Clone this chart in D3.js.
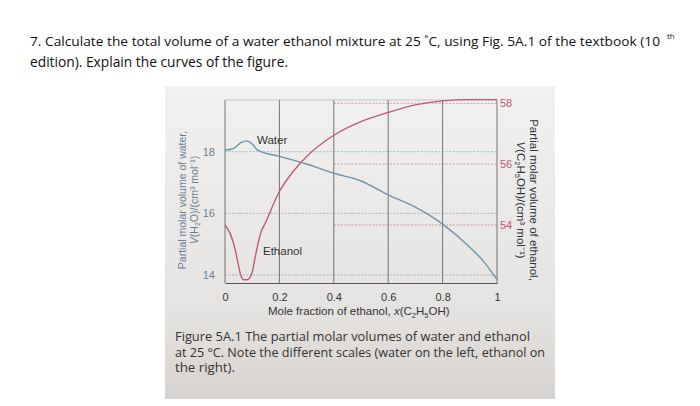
<!DOCTYPE html>
<html><head><meta charset="utf-8">
<script src="https://cdn.jsdelivr.net/npm/d3@7"></script>
<style>body{margin:0;background:#fff}</style></head>
<body><svg id="c" width="700" height="406"></svg>
<script>
const xTicks=[0,0.2,0.4,0.6,0.8,1];
const leftTicks=[14,16,18];
const rightTicks=[54,56,58];
const waterX=[0,0.03,0.06,0.08,0.1,0.12,0.2,0.3,0.4,0.5,0.6,0.7,0.8,0.9,0.95,0.98,1.0];
const waterV=[18.05,18.1,18.3,18.35,18.25,18.05,17.85,17.6,17.3,17.05,16.6,16.2,15.65,14.9,14.45,14.1,13.85];
const ethX=[0,0.02,0.04,0.05,0.06,0.07,0.08,0.09,0.1,0.11,0.13,0.15,0.2,0.25,0.3,0.4,0.5,0.6,0.7,0.8,0.9,1.0];
const ethV=[54.0,53.7,53.1,52.65,52.3,52.2,52.2,52.25,52.45,52.9,53.7,54.1,55.1,55.75,56.25,56.95,57.4,57.7,57.95,58.08,58.12,58.12];

const svg=d3.select("#c");
svg.append("text").attr("x",30).attr("y",46).attr("font-family","Open Sans").attr("font-size",13.4).attr("fill","#111")
 .attr("textLength",630).attr("lengthAdjust","spacingAndGlyphs").text("7. Calculate the total volume of a water ethanol mixture at 25 ˚C, using Fig. 5A.1 of the textbook (10");
svg.append("text").attr("x",667).attr("y",39).attr("font-family","Open Sans").attr("font-size",8).attr("fill","#111").text("th");
svg.append("text").attr("x",30).attr("y",67).attr("font-family","Open Sans").attr("font-size",14).attr("fill","#111")
 .attr("textLength",258).attr("lengthAdjust","spacingAndGlyphs").text("edition). Explain the curves of the figure.");

const g0=svg.append("defs").append("linearGradient").attr("id","bg").attr("x1",0).attr("y1",0).attr("x2",0).attr("y2",1);
g0.append("stop").attr("offset","0").attr("stop-color","#f1f1f0");
g0.append("stop").attr("offset","0.7").attr("stop-color","#e6e4e2");
g0.append("stop").attr("offset","1").attr("stop-color","#d6d2cf");
svg.append("rect").attr("x",165).attr("y",86).attr("width",390).attr("height",313).attr("fill","url(#bg)");

const x=d3.scaleLinear().domain([0,1]).range([225,497]);
const yL=d3.scaleLinear().domain([14,18]).range([275,151.7]);
const yR=d3.scaleLinear().domain([54,58]).range([225,103.3]);
const plotTop=100,plotBot=283;
const blue="#6f93ad",red="#c05a73";

xTicks.forEach(t=>{svg.append("line").attr("x1",x(t)).attr("x2",x(t)).attr("y1",plotTop).attr("y2",plotBot).attr("stroke","#555").attr("stroke-width",0.8);});
leftTicks.forEach(t=>{svg.append("line").attr("x1",x(0)).attr("x2",x(1)).attr("y1",yL(t)).attr("y2",yL(t)).attr("stroke",blue).attr("stroke-dasharray","2,1.5").attr("stroke-width",0.6);
 svg.append("text").attr("x",215).attr("y",yL(t)+4).attr("text-anchor","end").attr("font-family","Liberation Sans").attr("font-size",11).attr("fill","#6a7d90").text(t);});
rightTicks.forEach(t=>{svg.append("line").attr("x1",x(0.4)).attr("x2",x(1)).attr("y1",yR(t)).attr("y2",yR(t)).attr("stroke",red).attr("stroke-dasharray","2,1.5").attr("stroke-width",0.6);
 svg.append("text").attr("x",500).attr("y",yR(t)+4).attr("font-family","Liberation Sans").attr("font-size",11).attr("fill",red).text(t);});
svg.append("line").attr("x1",x(0)).attr("x2",x(1)).attr("y1",plotTop).attr("y2",plotTop).attr("stroke","#999").attr("stroke-width",0.5);

const xa=svg.append("g").attr("transform",`translate(0,${plotBot})`).call(d3.axisBottom(x).tickValues(xTicks).tickSize(0).tickPadding(10).tickFormat(d=>d===0||d===1?d:d3.format(".1f")(d)));
xa.select(".domain").attr("stroke","#555");
xa.selectAll("text").attr("font-family","Liberation Sans").attr("font-size",11).attr("fill","#333");

const lw=d3.line().x((d,i)=>x(waterX[i])).y(d=>yL(d)).curve(d3.curveMonotoneX);
svg.append("path").attr("d",lw(waterV)).attr("fill","none").attr("stroke",blue).attr("stroke-width",1.4);
const le=d3.line().x((d,i)=>x(ethX[i])).y(d=>yR(d)).curve(d3.curveMonotoneX);
svg.append("path").attr("d",le(ethV)).attr("fill","none").attr("stroke",red).attr("stroke-width",1.4);

svg.append("text").attr("x",257).attr("y",144).attr("font-family","Liberation Sans").attr("font-size",11.5).attr("fill","#333").text("Water");
svg.append("text").attr("x",263).attr("y",255).attr("font-family","Liberation Sans").attr("font-size",11.5).attr("fill","#333").text("Ethanol");
svg.append("text").attr("x",268).attr("y",315).attr("font-family","Liberation Sans").attr("font-size",11.5).attr("fill","#333")
 .html('Mole fraction of ethanol, <tspan font-style="italic">x</tspan>(C<tspan font-size="7.5" dy="3">2</tspan><tspan dy="-3">H</tspan><tspan font-size="7.5" dy="3">5</tspan><tspan dy="-3">OH)</tspan>');
const lt=svg.append("g").attr("transform","translate(186,200) rotate(-90)").attr("font-family","Liberation Sans").attr("font-size",10.5).attr("fill","#6a7d90").attr("text-anchor","middle");
lt.append("text").attr("y",0).text("Partial molar volume of water,");
lt.append("text").attr("y",12).html('<tspan font-style="italic">V</tspan>(H<tspan font-size="7" dy="2">2</tspan><tspan dy="-2">O)/(cm³ mol⁻¹)</tspan>');
const rt=svg.append("g").attr("transform","translate(530,200) rotate(90)").attr("font-family","Liberation Sans").attr("font-size",11.5).attr("fill","#333").attr("text-anchor","middle");
rt.append("text").attr("y",0).text("Partial molar volume of ethanol,");
rt.append("text").attr("y",13).html('<tspan font-style="italic">V</tspan>(C<tspan font-size="7.5" dy="2">2</tspan><tspan dy="-2">H</tspan><tspan font-size="7.5" dy="2">5</tspan><tspan dy="-2">OH)/(cm³ mol⁻¹)</tspan>');

const cap=["Figure 5A.1  The partial molar volumes of water and ethanol","at 25 °C. Note the different scales (water on the left, ethanol on","the right)."];
const capW=[355,370,60];
cap.forEach((c,i)=>svg.append("text").attr("x",175).attr("y",341+i*15.5).attr("font-family","Open Sans").attr("font-size",12.5).attr("fill","#333")
 .attr("textLength",capW[i]).attr("lengthAdjust","spacingAndGlyphs").text(c));
</script></body></html>
